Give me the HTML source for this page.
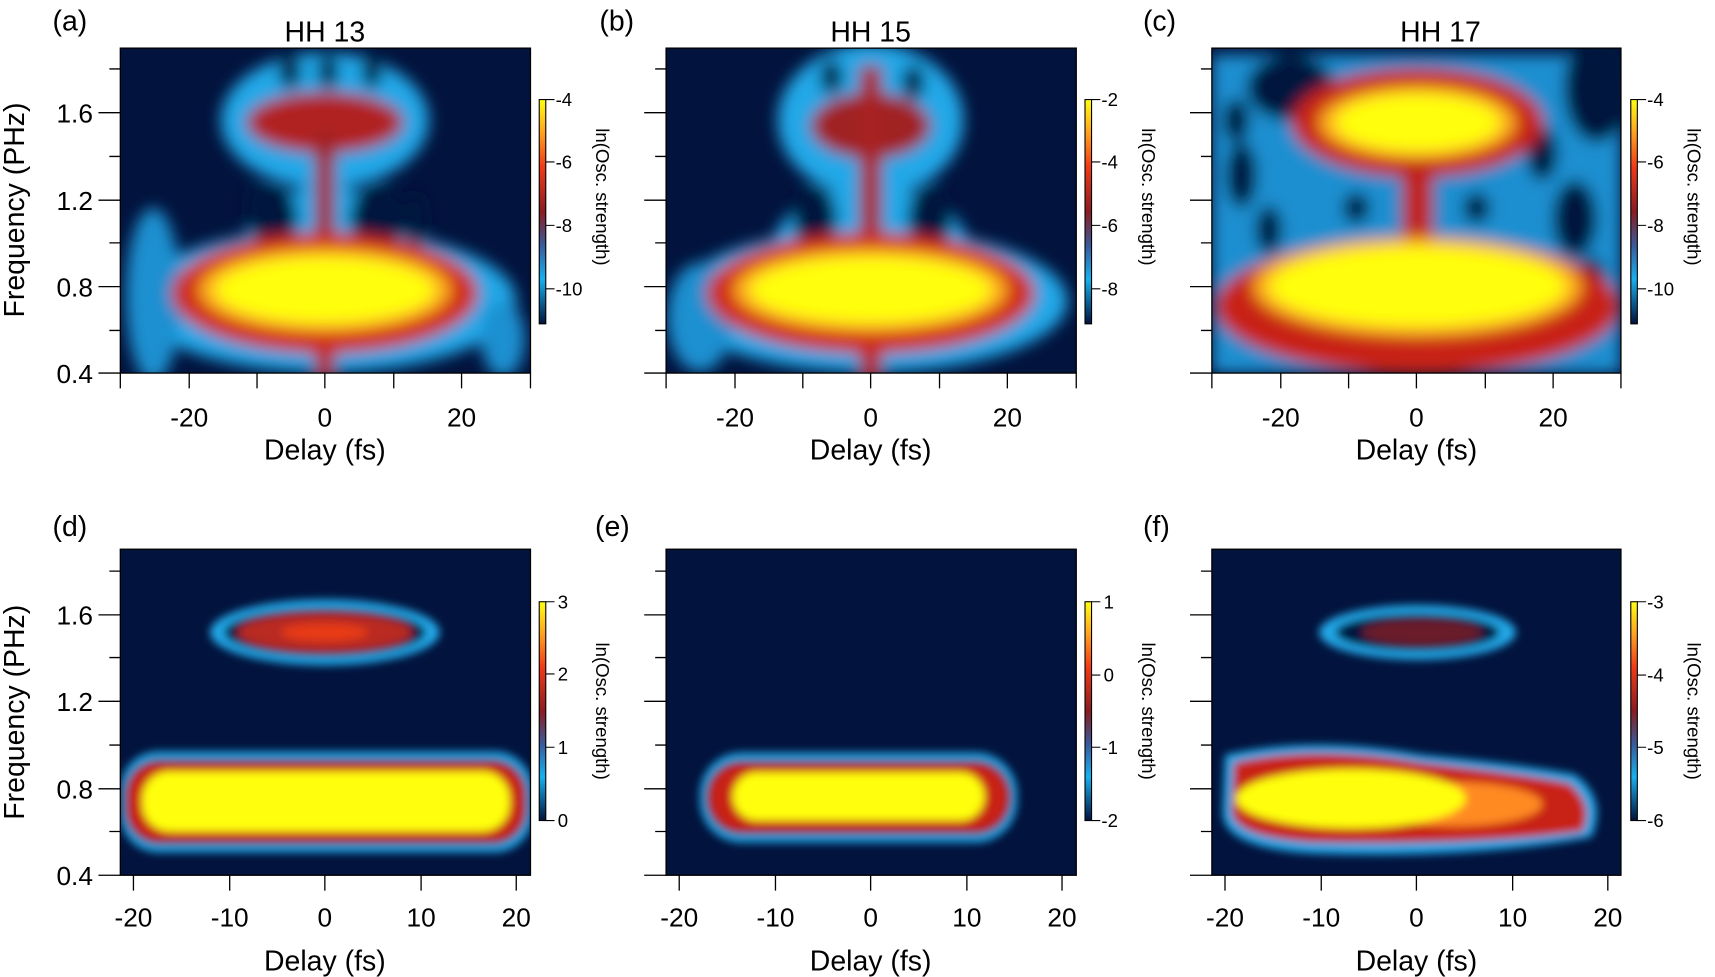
<!DOCTYPE html>
<html><head><meta charset="utf-8"><style>
html,body{margin:0;padding:0;background:#fff}
svg{display:block}
text{font-family:"Liberation Sans",Arial,sans-serif;fill:#000}
.t{font-size:24px}.l{font-size:26px}.c{font-size:17px}
</style></head><body>
<svg width="1715" height="977" viewBox="0 0 1568 893" preserveAspectRatio="none" xmlns="http://www.w3.org/2000/svg">
<defs>
<linearGradient id="cm" x1="0" y1="0" x2="0" y2="1">
<stop offset="0" stop-color="#ffff10"/><stop offset="0.15" stop-color="#ffa020"/><stop offset="0.3" stop-color="#f03a18"/><stop offset="0.5" stop-color="#8a1c22"/><stop offset="0.65" stop-color="#3a5a9a"/><stop offset="0.8" stop-color="#18b0ee"/><stop offset="1" stop-color="#02133d"/>
</linearGradient>
<filter id="b8" x="-50%" y="-50%" width="200%" height="200%"><feGaussianBlur stdDeviation="7"/></filter>
<filter id="b4" x="-50%" y="-50%" width="200%" height="200%"><feGaussianBlur stdDeviation="4"/></filter>
<clipPath id="ca"><rect x="110" y="44" width="375" height="297"/></clipPath>
<clipPath id="cb"><rect x="609" y="44" width="375" height="297"/></clipPath>
<clipPath id="cc"><rect x="1108" y="44" width="374" height="297"/></clipPath>
<clipPath id="cd"><rect x="110" y="502" width="375" height="298"/></clipPath>
<clipPath id="ce"><rect x="609" y="502" width="375" height="298"/></clipPath>
<clipPath id="cf"><rect x="1108" y="502" width="374" height="298"/></clipPath>
</defs>

<!-- ===== Panel a ===== -->
<rect x="110" y="44" width="375" height="297" fill="#02133d"/>
<g clip-path="url(#ca)"><g filter="url(#b8)">
<ellipse cx="297" cy="110" rx="95" ry="62" fill="#22a8e8"/>
<ellipse cx="297" cy="230" rx="75" ry="60" fill="#22a8e8"/>
<ellipse cx="297" cy="275" rx="175" ry="65" fill="#22a8e8"/>
<ellipse cx="140" cy="270" rx="25" ry="80" fill="#1d90d0"/>
<ellipse cx="460" cy="310" rx="20" ry="35" fill="#1d90d0"/>
<ellipse cx="250" cy="200" rx="22" ry="30" fill="#02133d"/>
<ellipse cx="345" cy="200" rx="25" ry="30" fill="#02133d"/>
<ellipse cx="265" cy="65" rx="10" ry="16" fill="#02133d"/>
<ellipse cx="300" cy="65" rx="9" ry="16" fill="#02133d"/>
<ellipse cx="340" cy="65" rx="9" ry="16" fill="#02133d"/>
<ellipse cx="235" cy="190" rx="10" ry="20" fill="#02133d"/>
<ellipse cx="380" cy="200" rx="10" ry="25" fill="#02133d"/>
<ellipse cx="297" cy="112" rx="72" ry="28" fill="#b02420"/>
<rect x="288" y="120" width="18" height="110" fill="#a02020"/>
<rect x="288" y="290" width="18" height="60" fill="#b02420"/>
<ellipse cx="297" cy="268" rx="140" ry="55" fill="#d02a18"/>
<ellipse cx="297" cy="265" rx="115" ry="38" fill="#ffb020"/>
<ellipse cx="297" cy="265" rx="100" ry="30" fill="#ffff10"/>
</g></g>
<!-- ===== Panel b ===== -->
<rect x="609" y="44" width="375" height="297" fill="#02133d"/>
<g clip-path="url(#cb)"><g filter="url(#b8)">
<ellipse cx="796" cy="110" rx="85" ry="70" fill="#22a8e8"/>
<ellipse cx="796" cy="230" rx="90" ry="60" fill="#22a8e8"/>
<ellipse cx="796" cy="275" rx="180" ry="65" fill="#22a8e8"/>
<ellipse cx="640" cy="290" rx="30" ry="50" fill="#1d90d0"/>
<ellipse cx="745" cy="200" rx="20" ry="30" fill="#02133d"/>
<ellipse cx="850" cy="200" rx="20" ry="30" fill="#02133d"/>
<ellipse cx="760" cy="70" rx="10" ry="16" fill="#02133d"/>
<ellipse cx="835" cy="75" rx="10" ry="16" fill="#02133d"/>
<ellipse cx="796" cy="115" rx="55" ry="30" fill="#a02024"/>
<rect x="786" y="60" width="20" height="170" fill="#a82222"/>
<rect x="786" y="290" width="20" height="60" fill="#b02420"/>
<ellipse cx="796" cy="268" rx="150" ry="55" fill="#d02a18"/>
<ellipse cx="796" cy="265" rx="125" ry="38" fill="#ffb020"/>
<ellipse cx="796" cy="265" rx="110" ry="30" fill="#ffff10"/>
</g></g>
<!-- ===== Panel c ===== -->
<rect x="1108" y="44" width="374" height="297" fill="#02133d"/>
<g clip-path="url(#cc)"><g filter="url(#b8)">
<rect x="1108" y="50" width="374" height="291" fill="#1a8fd0"/>
<ellipse cx="1460" cy="80" rx="30" ry="50" fill="#02133d"/>
<ellipse cx="1135" cy="160" rx="14" ry="30" fill="#02133d"/>
<ellipse cx="1160" cy="210" rx="12" ry="22" fill="#02133d"/>
<ellipse cx="1130" cy="110" rx="12" ry="20" fill="#02133d"/>
<ellipse cx="1440" cy="200" rx="20" ry="35" fill="#02133d"/>
<ellipse cx="1410" cy="140" rx="14" ry="25" fill="#02133d"/>
<ellipse cx="1455" cy="260" rx="14" ry="25" fill="#02133d"/>
<ellipse cx="1180" cy="80" rx="40" ry="30" fill="#02133d"/>
<ellipse cx="1240" cy="190" rx="12" ry="14" fill="#02133d"/>
<ellipse cx="1350" cy="190" rx="12" ry="14" fill="#02133d"/>
<ellipse cx="1296" cy="112" rx="115" ry="50" fill="#c82418"/>
<rect x="1282" y="130" width="28" height="110" fill="#c02418"/>
<ellipse cx="1296" cy="280" rx="185" ry="62" fill="#c82418"/>
<ellipse cx="1296" cy="112" rx="90" ry="33" fill="#ffb020"/>
<ellipse cx="1296" cy="112" rx="75" ry="26" fill="#ffff10"/>
<ellipse cx="1296" cy="262" rx="150" ry="45" fill="#ffb020"/>
<ellipse cx="1296" cy="262" rx="135" ry="36" fill="#ffff10"/>
</g></g>

<!-- ===== Panel d ===== -->
<rect x="110" y="502" width="375" height="298" fill="#02133d"/>
<g clip-path="url(#cd)"><g filter="url(#b4)">
<ellipse cx="297" cy="578" rx="105" ry="30" fill="#22a8e8"/>
<ellipse cx="297" cy="578" rx="92" ry="22" fill="#02133d"/>
<ellipse cx="297" cy="578" rx="80" ry="18" fill="#b82a20"/>
<ellipse cx="297" cy="578" rx="40" ry="8" fill="#e83a18"/>
<rect x="110" y="687" width="377" height="92" rx="35" fill="#22a8e8"/>
<rect x="114" y="694" width="368" height="78" rx="32" fill="#02133d"/>
<rect x="116" y="697" width="364" height="72" rx="30" fill="#c82418"/>
<rect x="130" y="705" width="336" height="55" rx="25" fill="#ffff10"/>
</g></g>
<!-- ===== Panel e ===== -->
<rect x="609" y="502" width="375" height="298" fill="#02133d"/>
<g clip-path="url(#ce)"><g filter="url(#b4)">
<rect x="640" y="688" width="290" height="82" rx="38" fill="#22a8e8"/>
<rect x="645" y="695" width="280" height="68" rx="33" fill="#02133d"/>
<rect x="648" y="698" width="274" height="62" rx="30" fill="#c82418"/>
<rect x="670" y="706" width="230" height="44" rx="22" fill="#ffff10"/>
</g></g>
<!-- ===== Panel f ===== -->
<rect x="1108" y="502" width="374" height="298" fill="#02133d"/>
<g clip-path="url(#cf)"><g filter="url(#b4)">
<ellipse cx="1296" cy="578" rx="90" ry="25" fill="#22a8e8"/>
<ellipse cx="1296" cy="578" rx="75" ry="17" fill="#02133d"/>
<ellipse cx="1300" cy="578" rx="55" ry="12" fill="#6a1e2a"/>
<path d="M1120,690 Q1200,672 1300,690 Q1400,700 1440,708 Q1470,730 1455,765 Q1350,785 1200,780 Q1115,775 1118,740 Z" fill="#22a8e8"/>
<path d="M1128,697 Q1200,680 1300,697 Q1400,708 1435,716 Q1458,735 1447,760 Q1350,773 1200,770 Q1125,765 1126,740 Z" fill="#c82418"/>
<ellipse cx="1330" cy="735" rx="80" ry="20" fill="#ff8a20"/>
<ellipse cx="1235" cy="730" rx="105" ry="27" fill="#ffff10"/>
</g></g>

<!-- ===== Axes (frames, ticks) ===== -->
<g stroke="#000" stroke-width="1.2" fill="none">
<rect x="110" y="44" width="375" height="297"/><rect x="609" y="44" width="375" height="297"/><rect x="1108" y="44" width="374" height="297"/>
<rect x="110" y="502" width="375" height="298"/><rect x="609" y="502" width="375" height="298"/><rect x="1108" y="502" width="374" height="298"/>
<path d="M90,103H110M90,183H110M90,262H110M90,341H110M100,63H110M100,143H110M100,222H110M100,302H110
M110,341v14M173,341v14M235,341v14M297,341v14M360,341v14M422,341v14M485,341v14"/>
<path d="M589,103H609M589,183H609M589,262H609M589,341H609M599,63H609M599,143H609M599,222H609M599,302H609
M609,341v14M672,341v14M734,341v14M796,341v14M859,341v14M921,341v14M984,341v14"/>
<path d="M1088,103H1108M1088,183H1108M1088,262H1108M1088,341H1108M1098,63H1108M1098,143H1108M1098,222H1108M1098,302H1108
M1108,341v14M1171,341v14M1233,341v14M1295,341v14M1358,341v14M1420,341v14M1482,341v14"/>
<path d="M90,562H110M90,641H110M90,721H110M90,800H110M100,522H110M100,601H110M100,681H110M100,760H110
M122,800v14M210,800v14M297,800v14M385,800v14M472,800v14"/>
<path d="M589,562H609M589,641H609M589,721H609M589,800H609M599,522H609M599,601H609M599,681H609M599,760H609
M621,800v14M709,800v14M796,800v14M884,800v14M971,800v14"/>
<path d="M1088,562H1108M1088,641H1108M1088,721H1108M1088,800H1108M1098,522H1108M1098,601H1108M1098,681H1108M1098,760H1108
M1120,800v14M1208,800v14M1295,800v14M1383,800v14M1470,800v14"/>
</g>

<g stroke="#000" stroke-width="1">
<rect x="493" y="91" width="6" height="205" fill="url(#cm)"/><rect x="992" y="91" width="6" height="205" fill="url(#cm)"/><rect x="1491" y="91" width="6" height="205" fill="url(#cm)"/>
<rect x="493" y="550" width="6" height="200" fill="url(#cm)"/><rect x="992" y="550" width="6" height="200" fill="url(#cm)"/><rect x="1491" y="550" width="6" height="200" fill="url(#cm)"/>
<path d="M499,91h8M499,148h8M499,206h8M499,264h8M998,91h8M998,148h8M998,206h8M998,264h8M1497,91h8M1497,148h8M1497,206h8M1497,264h8
M499,550h8M499,616h8M499,683h8M499,750h8M998,550h8M998,617h8M998,683h8M998,750h8M1497,550h8M1497,617h8M1497,683h8M1497,750h8"/>
</g>
<g>
<text x="508" y="97" class="c">-4</text><text x="508" y="154" class="c">-6</text><text x="508" y="212" class="c">-8</text><text x="508" y="270" class="c">-10</text>
<text x="1007" y="97" class="c">-2</text><text x="1007" y="154" class="c">-4</text><text x="1007" y="212" class="c">-6</text><text x="1007" y="270" class="c">-8</text>
<text x="1506" y="97" class="c">-4</text><text x="1506" y="154" class="c">-6</text><text x="1506" y="212" class="c">-8</text><text x="1506" y="270" class="c">-10</text>
<text x="510" y="556" class="c">3</text><text x="510" y="622" class="c">2</text><text x="510" y="689" class="c">1</text><text x="510" y="756" class="c">0</text>
<text x="1009" y="556" class="c">1</text><text x="1009" y="623" class="c">0</text><text x="1007" y="689" class="c">-1</text><text x="1007" y="756" class="c">-2</text>
<text x="1506" y="556" class="c">-3</text><text x="1506" y="623" class="c">-4</text><text x="1506" y="689" class="c">-5</text><text x="1506" y="756" class="c">-6</text>
</g>
<g text-anchor="middle">
<text class="c" transform="translate(545,180) rotate(90)">ln(Osc. strength)</text>
<text class="c" transform="translate(1044,180) rotate(90)">ln(Osc. strength)</text>
<text class="c" transform="translate(1543,180) rotate(90)">ln(Osc. strength)</text>
<text class="c" transform="translate(545,650) rotate(90)">ln(Osc. strength)</text>
<text class="c" transform="translate(1044,650) rotate(90)">ln(Osc. strength)</text>
<text class="c" transform="translate(1543,650) rotate(90)">ln(Osc. strength)</text>
</g>

<g text-anchor="end">
<text class="t" x="85" y="112">1.6</text><text class="t" x="85" y="192">1.2</text><text class="t" x="85" y="271">0.8</text><text class="t" x="85" y="350">0.4</text>
<text class="t" x="85" y="571">1.6</text><text class="t" x="85" y="650">1.2</text><text class="t" x="85" y="730">0.8</text><text class="t" x="85" y="809">0.4</text>
</g>
<g text-anchor="middle">
<text class="t" x="173" y="390">-20</text><text class="t" x="297" y="390">0</text><text class="t" x="422" y="390">20</text>
<text class="t" x="672" y="390">-20</text><text class="t" x="796" y="390">0</text><text class="t" x="921" y="390">20</text>
<text class="t" x="1171" y="390">-20</text><text class="t" x="1295" y="390">0</text><text class="t" x="1420" y="390">20</text>
<text class="t" x="122" y="847">-20</text><text class="t" x="210" y="847">-10</text><text class="t" x="297" y="847">0</text><text class="t" x="385" y="847">10</text><text class="t" x="472" y="847">20</text>
<text class="t" x="621" y="847">-20</text><text class="t" x="709" y="847">-10</text><text class="t" x="796" y="847">0</text><text class="t" x="884" y="847">10</text><text class="t" x="971" y="847">20</text>
<text class="t" x="1120" y="847">-20</text><text class="t" x="1208" y="847">-10</text><text class="t" x="1295" y="847">0</text><text class="t" x="1383" y="847">10</text><text class="t" x="1470" y="847">20</text>
<text class="l" x="297" y="420">Delay (fs)</text><text class="l" x="796" y="420">Delay (fs)</text><text class="l" x="1295" y="420">Delay (fs)</text>
<text class="l" x="297" y="887">Delay (fs)</text><text class="l" x="796" y="887">Delay (fs)</text><text class="l" x="1295" y="887">Delay (fs)</text>
<text class="l" x="297" y="38">HH 13</text><text class="l" x="796" y="38">HH 15</text><text class="l" x="1317" y="38">HH 17</text>
<text class="l" transform="translate(22,192) rotate(-90)">Frequency (PHz)</text>
<text class="l" transform="translate(22,651) rotate(-90)">Frequency (PHz)</text>
</g>
<g>
<text class="l" x="48" y="28">(a)</text><text class="l" x="548" y="28">(b)</text><text class="l" x="1045" y="28">(c)</text>
<text class="l" x="48" y="490">(d)</text><text class="l" x="544" y="490">(e)</text><text class="l" x="1045" y="490">(f)</text>
</g>
</svg>
</body></html>
